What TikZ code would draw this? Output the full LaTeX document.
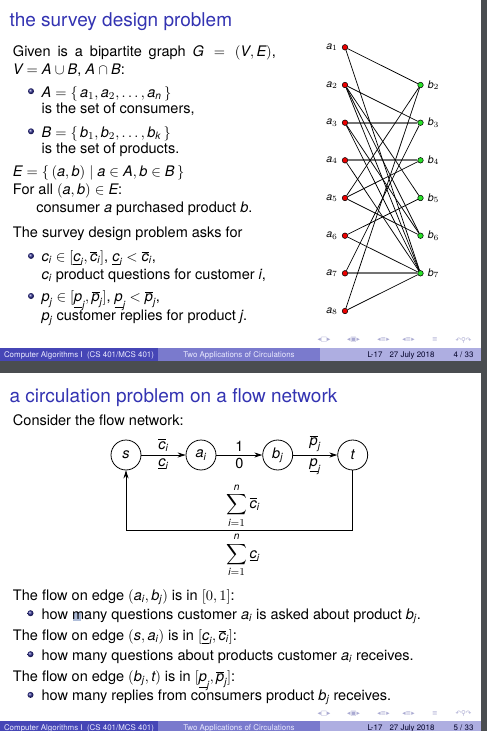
\documentclass[tikz,border=0pt]{standalone}
\usepackage{amsmath}
\usepackage{fontspec}
\setmainfont{TeX Gyre Heros}
\newfontfamily\dejavu{DejaVu Sans}
\usetikzlibrary{arrows.meta}
\definecolor{structure}{RGB}{51,51,178}
\definecolor{ballcol}{RGB}{40,40,140}
\definecolor{footA}{RGB}{70,70,182}
\definecolor{footB}{RGB}{122,122,205}
\definecolor{footC}{RGB}{174,174,225}
\definecolor{bandgray}{RGB}{74,77,80}
\definecolor{navcol}{RGB}{170,170,210}
\definecolor{dotred}{RGB}{235,0,0}
\definecolor{dotgreen}{RGB}{40,225,40}
\definecolor{hilite}{RGB}{176,190,218}
\newcommand\vv[1]{\textit{#1}}
\newcommand\chrome[3]{%
  \begin{scope}[shift={(0,#1)}]
    \fill[footA] (0,348) rectangle (158,360.7);
    \fill[footB] (158,348) rectangle (320,360.7);
    \fill[footC] (320,348) rectangle (481,360.7);
    \node[foot,text=white!92!blue] (fl#2) at (79,357.2) {Computer Algorithms I\ \ (CS 401/MCS 401)};
    \node[foot,text=white!92!blue] (fm#2) at (239,357.2) {Two Applications of Circulations};
    \node[foot,text=black!85!blue] (fr1#2) at (375,357.2) {L-17};
    \node[foot,text=black!85!blue] (fr2#2) at (412,357.2) {27 July 2018};
    \node[foot,text=black!85!blue] (fr3#2) at (463.5,357.2) {#3};
    \node[nav] (n1#2) at (324,340) {◂□▸};
    \node[nav] (n2#2) at (353.5,340) {◂▣▸};
    \node[nav] (n3#2) at (383.5,340) {◂≡▸};
    \node[nav] (n4#2) at (408.5,340) {◂≡▸};
    \node[nav] (n5#2) at (435,340) {≡};
    \node[nav] (n6#2) at (463.5,340) {↶⚲↷};
  \end{scope}}
\begin{document}
\begin{tikzpicture}[x=0.7576pt,y=-0.7576pt,
  txt/.style={anchor=base west,inner sep=0,font=\fontsize{11}{13}\selectfont},
  ttl/.style={anchor=base west,inner sep=0,font=\fontsize{14.4}{16}\selectfont,text=structure},
  foot/.style={anchor=base,inner sep=0,font=\fontsize{6}{7}\selectfont},
  nav/.style={inner sep=0,font=\dejavu\fontsize{5}{6}\selectfont,text=navcol},
  adot/.style={circle,draw=black,fill=dotred,minimum size=4.2pt,inner sep=0,line width=0.4pt},
  bdot/.style={circle,draw=black,fill=dotgreen,minimum size=4.2pt,inner sep=0,line width=0.4pt},
  lab/.style={inner sep=0,font=\fontsize{8}{9}\selectfont},
  edge/.style={line width=0.55pt,black},
  medge/.style={line width=1.6pt,black!55},
  fnode/.style={circle,draw,minimum size=22.7pt,inner sep=0,line width=0.6pt,font=\fontsize{11}{13}\selectfont},
  arr/.style={line width=0.6pt,-{Stealth[length=6pt,width=3.8pt]}},
  elab/.style={inner sep=0,font=\fontsize{11}{13}\selectfont},
  ball/.style={ball color=ballcol}
]
\useasboundingbox (0,0) rectangle (487,731);
\clip (0,0) rectangle (487,731);
\fill[bandgray] (0,0) rectangle (487,731);
\fill[white] (0,0) rectangle (481,360.7);
\fill[white] (0,373.3) rectangle (481,740);

% ---------- slide 1 ----------
\node[ttl] (title1) at (9.3,26) {the survey design problem};
\node[txt] (l1) at (12.7,56.7) {\makebox[199.2pt][s]{Given is a bipartite graph $\vv{G} = (\vv{V}, \vv{E})$,}};
\node[txt] (l2) at (12.7,74) {$\vv{V} = \vv{A} \cup \vv{B}$, $\vv{A} \cap \vv{B}$:};
\node[txt] (l3) at (41.3,97.3) {$\vv{A} = \{\, \vv{a}_{1}, \vv{a}_{2}, \ldots, \vv{a}_{\vv{n}} \,\}$};
\node[txt] (l4) at (41.3,113.3) {is the set of consumers,};
\node[txt] (l5) at (41.3,137.3) {$\vv{B} = \{\, \vv{b}_{1}, \vv{b}_{2}, \ldots, \vv{b}_{\vv{k}} \,\}$};
\node[txt] (l6) at (41.3,153.3) {is the set of products.};
\node[txt] (l7) at (12.7,176.7) {$\vv{E} = \{\, (\vv{a}, \vv{b}) \mid \vv{a} \in \vv{A}, \vv{b} \in \vv{B} \,\}$};
\node[txt] (l8) at (12.7,194) {For all $(\vv{a}, \vv{b}) \in \vv{E}$:};
\node[txt] (l9) at (36,212.3) {consumer $\vv{a}$ purchased product $\vv{b}$.};
\node[txt] (l10) at (12.7,237.7) {The survey design problem asks for};
\node[txt] (l11) at (41.3,261.7) {$\vv{c}_{\vv{i}} \in [\underline{\vv{c}}_{\vv{i}}, \overline{\vv{c}}_{\vv{i}}]$, $\underline{\vv{c}}_{\vv{i}} < \overline{\vv{c}}_{\vv{i}}$,};
\node[txt] (l12) at (41.3,279) {$\vv{c}_{\vv{i}}$ product questions for customer $\vv{i}$,};
\node[txt] (l13) at (41.3,301.7) {$\vv{p}_{\vv{j}} \in [\underline{\vv{p}}_{\vv{j}}, \overline{\vv{p}}_{\vv{j}}]$, $\underline{\vv{p}}_{\vv{j}} < \overline{\vv{p}}_{\vv{j}}$,};
\node[txt] (l14) at (41.3,320) {$\vv{p}_{\vv{j}}$ customer replies for product $\vv{j}$.};
\shade[ball] (31,91.2) circle (3);
\shade[ball] (31,131.3) circle (3);
\shade[ball] (31,255.9) circle (3);
\shade[ball] (31,296) circle (3);

% bipartite graph
\foreach \k/\y in {1/47.3,2/85,3/122.7,4/160.3,5/198,6/235.7,7/273.3,8/311}{
  \node[adot,label={[lab,label distance=3pt]left:$\vv{a}_{\k}$}] (a\k) at (345,\y) {};
}
\foreach \k/\y in {2/85,3/122.7,4/160.3,5/198,6/235.7,7/273.3}{
  \node[bdot,label={[lab,label distance=3pt]right:$\vv{b}_{\k}$}] (b\k) at (420.5,\y) {};
}
\draw[medge] (a3) -- (b3);
\draw[medge] (a4) -- (b4);
\draw[medge] (a7) -- (b7);
\foreach \i/\j in {1/2,1/7,2/3,2/5,2/6,2/7,3/6,3/7,4/7,5/2,5/4,5/6,6/5,6/7,7/3,8/2,8/7}{
  \draw[edge] (a\i) -- (b\j);
}
\chrome{0}{A}{4 / 33}

% ---------- slide 2 ----------
\node[ttl] (title2) at (9.3,402.7) {a circulation problem on a flow network};
\node[txt] (m1) at (12.7,425.7) {Consider the flow network:};
\node[fnode] (s) at (126,455) {$\vv{s}$};
\node[fnode] (ai) at (201,455) {$\vv{a}_{\vv{i}}$};
\node[fnode] (bj) at (277.7,455) {$\vv{b}_{\vv{j}}$};
\node[fnode] (t) at (352.7,455) {$\vv{t}$};
\draw[arr] (s) -- node[elab,above=2.2pt] (lsa) {$\overline{\vv{c}}_{\vv{i}}$} node[elab,below=2.2pt] (lsb) {$\underline{\vv{c}}_{\vv{i}}$} (ai);
\draw[arr] (ai) -- node[elab,above=2.2pt] (lab1) {1} node[elab,below=2.2pt] (lab0) {0} (bj);
\draw[arr] (bj) -- node[elab,above=2.2pt] (lpa) {$\overline{\vv{p}}_{\vv{j}}$} node[elab,below=2.2pt] (lpb) {$\underline{\vv{p}}_{\vv{j}}$} (t);
\coordinate (tb) at (352.7,530.7);
\coordinate (sb) at (126,530.7);
\draw[arr] (t) -- (tb) -- (sb) -- (s);
\node[elab] (sumU) at (243,505.5) {$\displaystyle\sum_{\vv{i}=1}^{\vv{n}} \overline{\vv{c}}_{\vv{i}}$};
\node[elab] (sumL) at (243,555) {$\displaystyle\sum_{\vv{i}=1}^{\vv{n}} \underline{\vv{c}}_{\vv{i}}$};

\fill[hilite] (72.7,611.5) rectangle (81,620.5);
\node[txt] (m2) at (12.7,600.7) {The flow on edge $(\vv{a}_{\vv{i}}, \vv{b}_{\vv{j}})$ is in $[0, 1]$:};
\node[txt] (m3) at (41.3,619) {how many questions customer $\vv{a}_{\vv{i}}$ is asked about product $\vv{b}_{\vv{j}}$.};
\node[txt] (m4) at (12.7,640.7) {The flow on edge $(\vv{s}, \vv{a}_{\vv{i}})$ is in $[\underline{\vv{c}}_{\vv{i}}, \overline{\vv{c}}_{\vv{i}}]$:};
\node[txt] (m5) at (41.3,660) {how many questions about products customer $\vv{a}_{\vv{i}}$ receives.};
\node[txt] (m6) at (12.7,681.7) {The flow on edge $(\vv{b}_{\vv{j}}, \vv{t})$ is in $[\underline{\vv{p}}_{\vv{j}}, \overline{\vv{p}}_{\vv{j}}]$:};
\node[txt] (m7) at (41.3,700.7) {how many replies from consumers product $\vv{b}_{\vv{j}}$ receives.};
\shade[ball] (30.5,613.2) circle (3);
\shade[ball] (30.5,654.2) circle (3);
\shade[ball] (30.5,694.9) circle (3);
\chrome{373.3}{B}{5 / 33}
\end{tikzpicture}
\end{document}
